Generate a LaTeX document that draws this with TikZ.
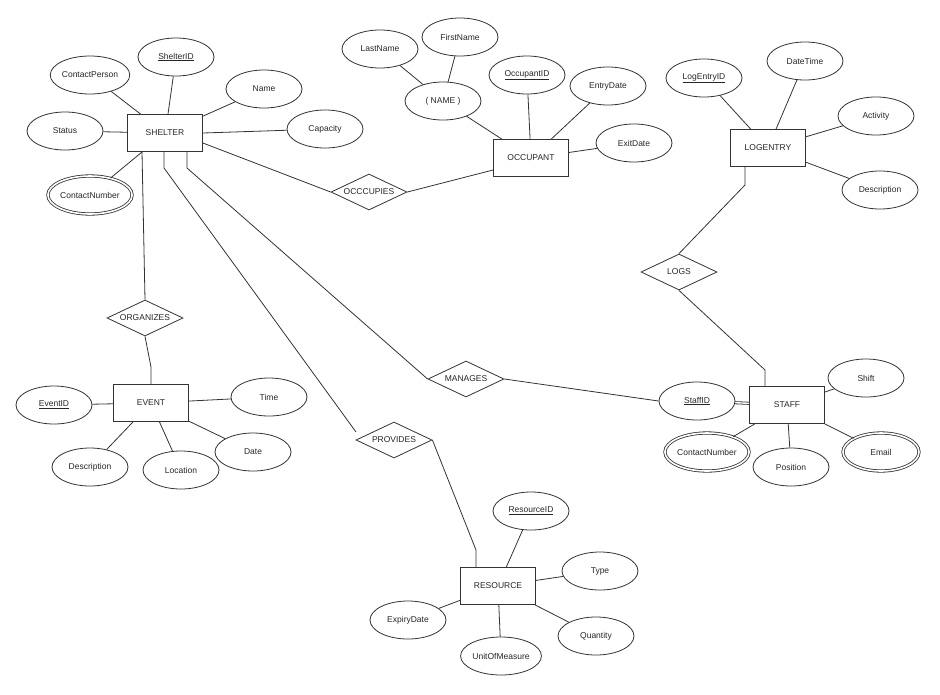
\documentclass[tikz,border=0pt]{standalone}
\usepackage{fontspec}
\setmainfont{Liberation Sans}
\usetikzlibrary{shapes.geometric}
\begin{document}
\begin{tikzpicture}[x=1pt,y=-1pt,line width=0.8pt,draw=black!80,
  every node/.style={font=\fontsize{8.5}{10}\selectfont,text=black!85},
  ent/.style={draw,rectangle,minimum width=75pt,minimum height=37pt,inner sep=0pt},
  att/.style={draw,ellipse,minimum width=76pt,minimum height=38pt,inner sep=0pt},
  datt/.style={att,double,double distance=1.6pt},
  rel/.style={draw,diamond,aspect=2.1,minimum width=76pt,minimum height=36pt,inner sep=0pt}]
\useasboundingbox (0,0) rectangle (940,694);
% entities
\node[ent] (sh) at (165,133) {SHELTER};
\node[ent] (oc) at (531,158) {OCCUPANT};
\node[ent] (le) at (768,148) {LOGENTRY};
\node[ent] (st) at (787,405) {STAFF};
\node[ent] (ev) at (151,403) {EVENT};
\node[ent] (re) at (498,586) {RESOURCE};
% relations
\node[rel] (occ) at (369,192) {OCCCUPIES};
\node[rel] (logs) at (679,272) {LOGS};
\node[rel] (man) at (466,379) {MANAGES};
\node[rel] (org) at (145,318) {ORGANIZES};
\node[rel] (pro) at (394,440) {PROVIDES};
% attributes
\node[att] (shid) at (176,57) {\underline{ShelterID}};
\node[att] (cp) at (90,75) {ContactPerson};
\node[att] (nm) at (264,89) {Name};
\node[att] (stt) at (65,131) {Status};
\node[att] (cap) at (325,129) {Capacity};
\node[datt] (cn) at (90,195) {ContactNumber};
\node[att] (nam) at (443,101) {( NAME )};
\node[att] (ln) at (380,49) {LastName};
\node[att] (fn) at (460,37) {FirstName};
\node[att] (ocid) at (527,75) {\underline{OccupantID}};
\node[att] (ed) at (608,86) {EntryDate};
\node[att] (xd) at (634,143) {ExitDate};
\node[att] (leid) at (704,78) {\underline{LogEntryID}};
\node[att] (dt) at (805,61) {DateTime};
\node[att] (act) at (876,116) {Activity};
\node[att] (ldesc) at (880,190) {Description};
\node[att] (shf) at (866,378) {Shift};
\node[att] (sid) at (697,401) {\underline{StaffID}};
\node[datt] (scn) at (707,452) {ContactNumber};
\node[att] (pos) at (791,467) {Position};
\node[datt] (em) at (881,452) {Email};
\node[att] (evid) at (54,405) {\underline{EventID}};
\node[att] (tm) at (269,397) {Time};
\node[att] (edesc) at (90,467) {Description};
\node[att] (loc) at (181,470) {Location};
\node[att] (dte) at (253,452) {Date};
\node[att] (rid) at (531,511) {\underline{ResourceID}};
\node[att] (typ) at (600,571) {Type};
\node[att] (exp) at (408,620) {ExpiryDate};
\node[att] (uom) at (501,656) {UnitOfMeasure};
\node[att] (qty) at (596,636) {Quantity};
% attribute links
\draw (sh.north) ++(3,0) coordinate (a1) -- (shid);
\draw (sh) -- (cp); \draw (sh) -- (nm); \draw (sh) -- (stt);
\draw (sh.east) -- (cap); \draw (sh) -- (cn);
\draw (oc) -- (nam); \draw (nam) -- (ln); \draw (nam) -- (fn);
\draw (oc) -- (ocid); \draw (oc) -- (ed); \draw (oc) -- (xd);
\draw (le) -- (leid); \draw (le) -- (dt); \draw (le) -- (act); \draw (le) -- (ldesc);
\draw (st) -- (shf); \draw (st) -- (scn); \draw (st) -- (pos); \draw (st) -- (em);
\draw[double,double distance=1.4pt] (sid) -- (st);
\draw (ev) -- (evid); \draw (ev) -- (tm); \draw (ev) -- (edesc); \draw (ev) -- (loc); \draw (ev) -- (dte);
\draw (re) -- (rid); \draw (re) -- (typ); \draw (re) -- (exp); \draw (re) -- (uom); \draw (re) -- (qty);
% relationship links
\coordinate (s1) at (218,143);
\draw (sh.east |- s1) -- (occ.west);
\draw (occ.east) -- (oc.south west |- 0,170);
\draw (sh.south -| 142,0) -- (org.north);
\coordinate (e1) at (151,367);
\draw (org.south) -- (e1) -- (ev.north -| e1);
\coordinate (p0) at (164,168); \coordinate (p1) at (356,432);
\draw (sh.south -| p0) -- (p0) -- (p1);
\coordinate (r1) at (476,550);
\draw (pro.east) -- (r1) -- (re.north -| r1);
\coordinate (m0) at (187,168);
\draw (sh.south -| m0) -- (m0) -- (man.west);
\draw (man.east) -- (sid.west);
\coordinate (l1) at (745,185);
\draw (logs.north) -- (l1) -- (le.south -| l1);
\coordinate (l2) at (765,370);
\draw (logs.south) -- (l2) -- (st.north -| l2);
\end{tikzpicture}
\end{document}
